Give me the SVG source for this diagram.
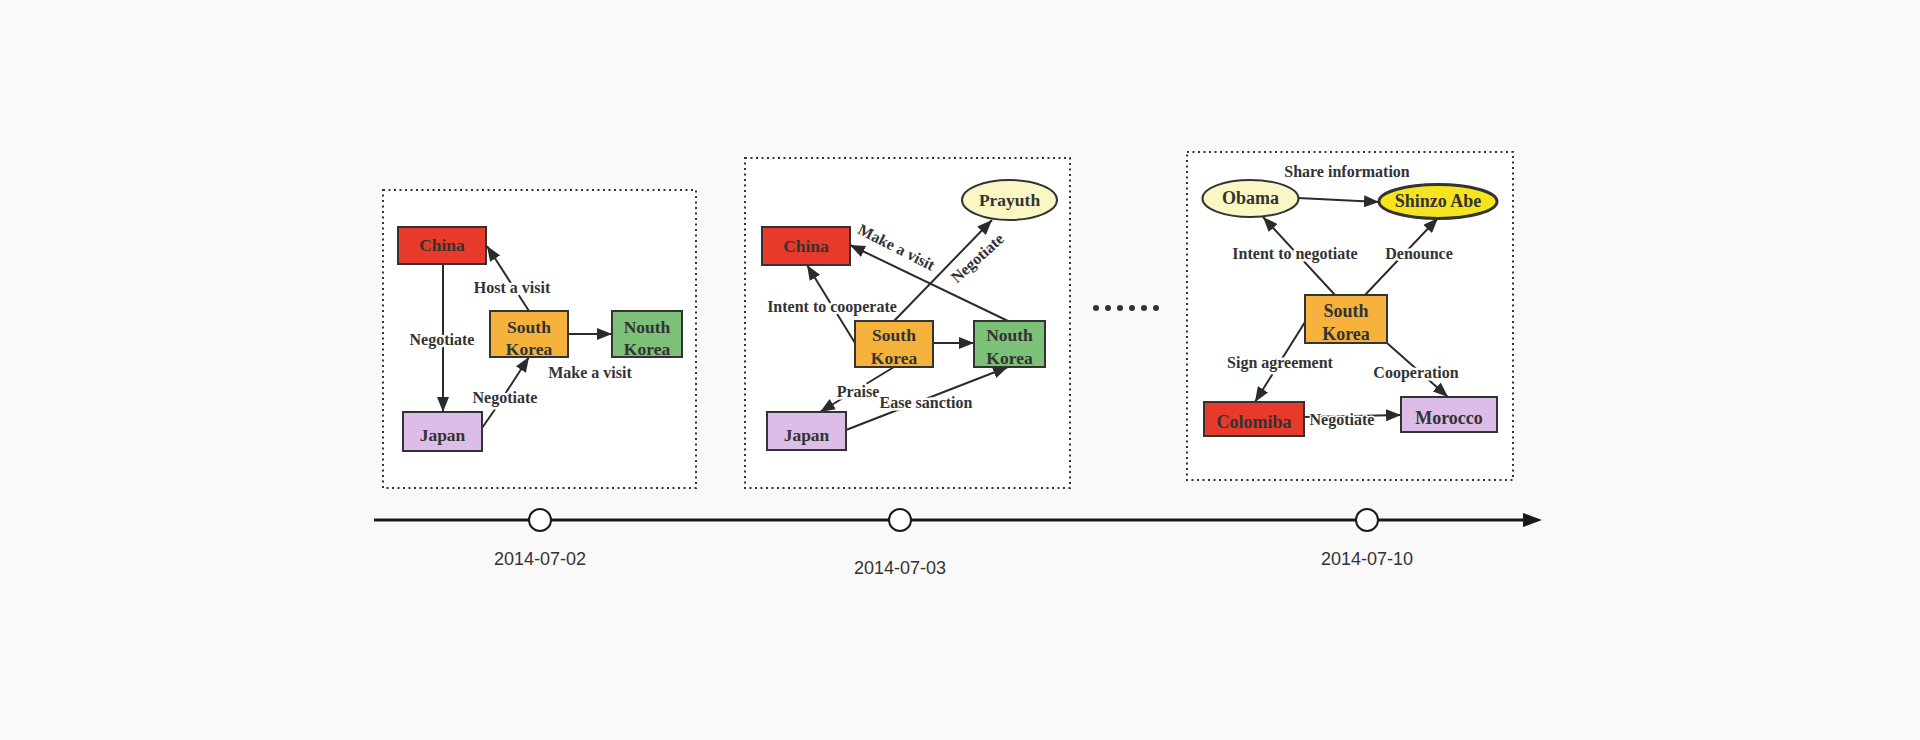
<svg xmlns="http://www.w3.org/2000/svg" width="1920" height="740" viewBox="0 0 1920 740">
<style>
.panel{fill:#fff;stroke:#333;stroke-width:2;stroke-dasharray:2 3.5}
.node{stroke:#333;stroke-width:2}
.nt{font-family:"Liberation Serif",serif;font-weight:bold;font-size:17.5px;fill:#333;text-anchor:middle}
.nt3{font-size:18px}
.el{font-family:"Liberation Serif",serif;font-weight:bold;font-size:16px;fill:#333;text-anchor:middle;stroke:#fff;stroke-width:5;paint-order:stroke;stroke-linejoin:round}
.edge{fill:none;stroke:#2b2b2b;stroke-width:2;marker-end:url(#arr)}
.date{font-family:"Liberation Sans",sans-serif;font-size:18px;fill:#333;text-anchor:middle}
</style>
<defs>
<marker id="arr" markerUnits="userSpaceOnUse" markerWidth="16" markerHeight="12" refX="15" refY="6" orient="auto">
<path d="M0,0 L15,6 L0,12 z" fill="#2b2b2b"/>
</marker>
</defs>
<rect x="0" y="0" width="1920" height="740" fill="#f9f9f9"/>

<!-- panels -->
<rect class="panel" x="383" y="190" width="313" height="298"/>
<rect class="panel" x="745" y="158" width="325" height="330"/>
<rect class="panel" x="1187" y="152" width="326" height="328"/>

<!-- connectors -->
<g id="connectors">
<line class="edge" x1="443" y1="264" x2="443" y2="412"/>
<line class="edge" x1="529" y1="311" x2="487" y2="246"/>
<line class="edge" x1="568" y1="334" x2="612" y2="334"/>
<polyline class="edge" points="482,428 498,405 529,357"/>

<line class="edge" x1="855" y1="343" x2="807" y2="265"/>
<line class="edge" x1="894" y1="321" x2="992" y2="220"/>
<line class="edge" x1="1008" y1="321" x2="850" y2="245"/>
<line class="edge" x1="933" y1="343" x2="974" y2="343"/>
<line class="edge" x1="894" y1="367" x2="820" y2="412"/>
<line class="edge" x1="846" y1="430" x2="1008" y2="367"/>

<line class="edge" x1="1298" y1="198" x2="1379" y2="202"/>
<line class="edge" x1="1335" y1="295" x2="1263" y2="217"/>
<line class="edge" x1="1365" y1="295" x2="1438" y2="218"/>
<line class="edge" x1="1305" y1="322" x2="1255" y2="402"/>
<line class="edge" x1="1387" y1="343" x2="1448" y2="397"/>
<line class="edge" x1="1304" y1="417" x2="1401" y2="415"/>

<text class="el" x="442" y="345">Negotiate</text>
<text class="el" x="512" y="293">Host a visit</text>
<text class="el" x="590" y="378">Make a visit</text>
<text class="el" x="505" y="403">Negotiate</text>

<text class="el" x="832" y="312">Intent to cooperate</text>
<text class="el" transform="translate(981,262) rotate(-42)" x="0" y="0">Negotiate</text>
<text class="el" transform="translate(894,252) rotate(27)" x="0" y="0">Make a visit</text>
<text class="el" x="858" y="397">Praise</text>
<text class="el" x="926" y="408">Ease sanction</text>

<text class="el" x="1347" y="177">Share information</text>
<text class="el" x="1295" y="259">Intent to negotiate</text>
<text class="el" x="1419" y="259">Denounce</text>
<text class="el" x="1280" y="368">Sign agreement</text>
<text class="el" x="1416" y="378">Cooperation</text>
<text class="el" x="1342" y="425" style="stroke-width:3">Negotiate</text>
</g>

<!-- panel 1 -->
<g id="p1-china"><rect class="node" x="398" y="227" width="88" height="37" fill="#e83a2b"/><text class="nt" x="442" y="251">China</text></g>
<g id="p1-southkorea"><rect class="node" x="490" y="311" width="78" height="46" fill="#f5b33e"/><text class="nt" x="529" y="333">South</text><text class="nt" x="529" y="355">Korea</text></g>
<g id="p1-nouthkorea"><rect class="node" x="612" y="311" width="70" height="46" fill="#7dc077"/><text class="nt" x="647" y="333">Nouth</text><text class="nt" x="647" y="355">Korea</text></g>
<g id="p1-japan"><rect class="node" x="403" y="412" width="79" height="39" fill="#dcbde8"/><text class="nt" x="442.5" y="441">Japan</text></g>

<!-- panel 2 -->
<g id="p2-prayuth"><ellipse class="node" cx="1009.5" cy="200" rx="47.5" ry="20" fill="#fbf7c4"/><text class="nt" x="1009.5" y="206">Prayuth</text></g>
<g id="p2-china"><rect class="node" x="762" y="227" width="88" height="38" fill="#e83a2b"/><text class="nt" x="806" y="252">China</text></g>
<g id="p2-southkorea"><rect class="node" x="855" y="321" width="78" height="46" fill="#f5b33e"/><text class="nt" x="894" y="341">South</text><text class="nt" x="894" y="364">Korea</text></g>
<g id="p2-nouthkorea"><rect class="node" x="974" y="321" width="71" height="46" fill="#7dc077"/><text class="nt" x="1009.5" y="341">Nouth</text><text class="nt" x="1009.5" y="364">Korea</text></g>
<g id="p2-japan"><rect class="node" x="767" y="412" width="79" height="38" fill="#dcbde8"/><text class="nt" x="806.5" y="441">Japan</text></g>

<!-- panel 3 -->
<g id="p3-obama"><ellipse class="node" cx="1250.5" cy="198.5" rx="48" ry="18.5" fill="#fbf7c4"/><text class="nt nt3" x="1250.5" y="204">Obama</text></g>
<g id="p3-shinzoabe"><ellipse class="node" cx="1438" cy="201.5" rx="59" ry="17" fill="#f6e51e" style="stroke-width:3"/><text class="nt nt3" x="1438" y="207">Shinzo Abe</text></g>
<g id="p3-southkorea"><rect class="node" x="1305" y="295" width="82" height="48" fill="#f5b33e"/><text class="nt nt3" x="1346" y="317">South</text><text class="nt nt3" x="1346" y="340">Korea</text></g>
<g id="p3-colomiba"><rect class="node" x="1204" y="402" width="100" height="34" fill="#e83a2b"/><text class="nt nt3" x="1254" y="428">Colomiba</text></g>
<g id="p3-morocco"><rect class="node" x="1401" y="397" width="96" height="35" fill="#dcbde8"/><text class="nt nt3" x="1449" y="424">Morocco</text></g>

<!-- ellipsis -->
<g id="ellipsis" fill="#333">
<circle cx="1096" cy="308" r="3"/><circle cx="1108" cy="308" r="3"/><circle cx="1120" cy="308" r="3"/>
<circle cx="1132" cy="308" r="3"/><circle cx="1144" cy="308" r="3"/><circle cx="1156" cy="308" r="3"/>
</g>

<!-- timeline -->
<g id="timeline">
<line x1="374" y1="520" x2="1526" y2="520" stroke="#1a1a1a" stroke-width="3"/>
<polygon points="1523,513 1542,520 1523,527" fill="#1a1a1a"/>
<circle cx="540" cy="520" r="11" fill="#fff" stroke="#1a1a1a" stroke-width="2"/>
<circle cx="900" cy="520" r="11" fill="#fff" stroke="#1a1a1a" stroke-width="2"/>
<circle cx="1367" cy="520" r="11" fill="#fff" stroke="#1a1a1a" stroke-width="2"/>
<text class="date" x="540" y="565">2014-07-02</text>
<text class="date" x="900" y="574">2014-07-03</text>
<text class="date" x="1367" y="565">2014-07-10</text>
</g>
</svg>
